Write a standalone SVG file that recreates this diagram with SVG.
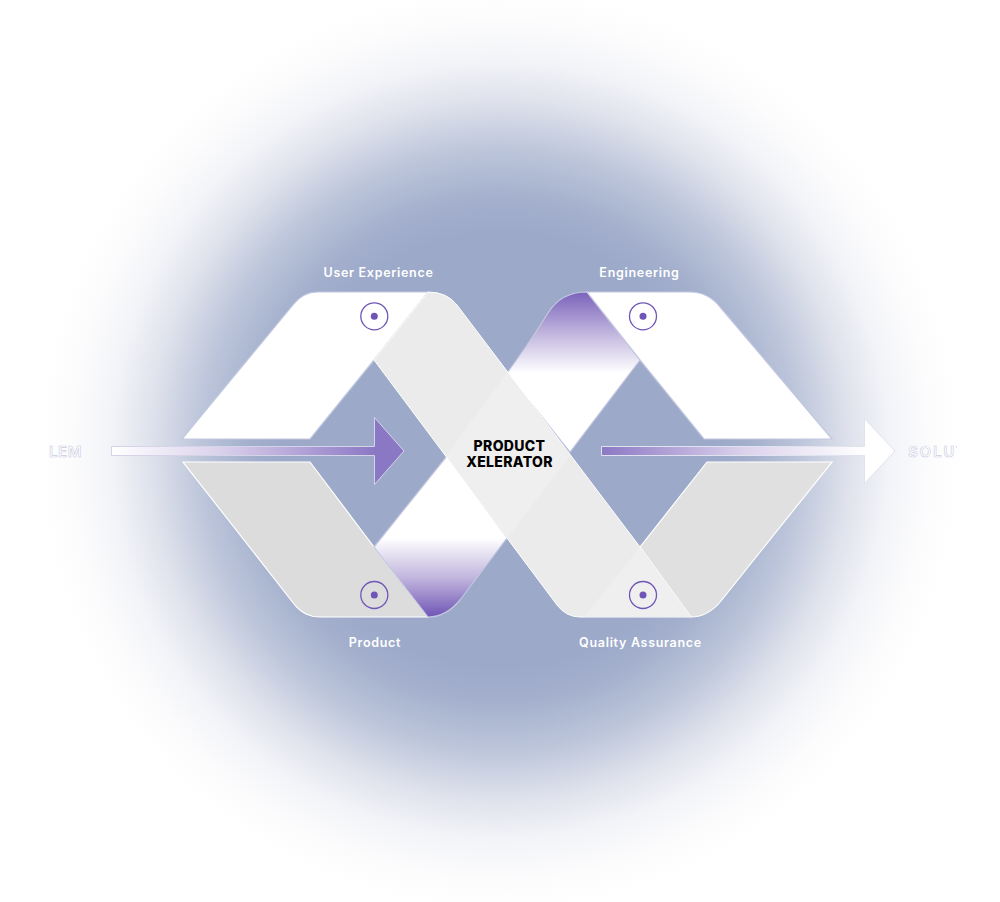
<svg xmlns="http://www.w3.org/2000/svg" width="1000" height="902" viewBox="0 0 1000 902">
<style>
.lbl{font-family:Inter,"Liberation Sans",sans-serif;font-size:12.5px;font-weight:600;fill:#fff;text-anchor:middle;letter-spacing:.7px}
.out{font-family:Inter,"Liberation Sans",sans-serif;font-size:15px;font-weight:600;fill:#fff;stroke:#c9cde3;stroke-width:.6;letter-spacing:.6px}
.core{font-family:Inter,"Liberation Sans",sans-serif;font-size:14px;font-weight:800;fill:#000;text-anchor:middle;letter-spacing:.35px}
.edgeT{stroke:#c3c8e0;stroke-width:1.2}
.edgeB{stroke:#fff;stroke-width:1.2}
.ring{fill:none;stroke:#6f55b5;stroke-width:1.3}
.dot{fill:#6f55b5}
</style>
<defs>
<radialGradient id="bg" gradientUnits="userSpaceOnUse" cx="500" cy="450" r="460">
<stop offset="0" stop-color="#9ca9c9"/><stop offset=".47" stop-color="#9ca9c9"/><stop offset=".543" stop-color="#a3afcc"/><stop offset=".652" stop-color="#bcc5da"/><stop offset=".76" stop-color="#dfe2ec"/><stop offset=".848" stop-color="#f3f4f8"/><stop offset=".935" stop-color="#fcfcfd"/><stop offset="1" stop-color="#fff"/>
</radialGradient>
<linearGradient id="topG" gradientUnits="userSpaceOnUse" x1="0" y1="292" x2="0" y2="373"><stop offset="0" stop-color="#7a62bb"/><stop offset=".55" stop-color="#c6bbe0"/><stop offset="1" stop-color="#fff"/></linearGradient>
<linearGradient id="botG" gradientUnits="userSpaceOnUse" x1="0" y1="538" x2="0" y2="617"><stop offset="0" stop-color="#fff"/><stop offset=".5" stop-color="#c2b6de"/><stop offset="1" stop-color="#6f55b5"/></linearGradient>
<linearGradient id="arrL" gradientUnits="userSpaceOnUse" x1="111" y1="0" x2="375" y2="0"><stop offset="0" stop-color="#fff"/><stop offset=".4" stop-color="#dcd3ec"/><stop offset="1" stop-color="#8b78c4"/></linearGradient>
<linearGradient id="arrR" gradientUnits="userSpaceOnUse" x1="601" y1="0" x2="865" y2="0"><stop offset="0" stop-color="#8b78c4"/><stop offset=".55" stop-color="#dcd3ec"/><stop offset="1" stop-color="#fff"/></linearGradient>
<clipPath id="cutR"><rect x="900" y="430" width="57" height="40"/></clipPath>
</defs>
<rect width="1000" height="902" fill="url(#bg)"/>
<g id="connectors">
<path d="M111.500 446.500H374.500V417.500L404 451L374.500 484.500V455.500H111.500Z" fill="url(#arrL)" stroke="#d5d3e8" stroke-width="1"/>
<path d="M601.500 446.500H864.500V418.500L895 451L864.500 483.500V455.500H601.500Z" fill="url(#arrR)" stroke="#dfe2ef" stroke-width="1"/>
</g>
<g id="node-user-experience">
<path class="edgeT" d="M182 439H310L374 360L428 292H318Q303 292 293 305Z" fill="#fff"/>
<text class="lbl" x="378.500" y="277">User Experience</text>
<circle class="ring" cx="374.300" cy="316.300" r="13.500"/><circle class="dot" cx="374.300" cy="316.300" r="3.500"/>
</g>
<g id="node-engineering">
<path class="edgeT" d="M507 373Q530 342 548 313Q561 292 587 292L640 360L570 452Z" fill="url(#topG)"/>
<path class="edgeT" d="M587 292H690Q708 292 720 307L832 439H704L640 360Z" fill="#fff"/>
<text class="lbl" x="639.500" y="277">Engineering</text>
<circle class="ring" cx="643" cy="316.300" r="13.500"/><circle class="dot" cx="643" cy="316.300" r="3.500"/>
</g>
<g id="node-product">
<path class="edgeB" d="M183 462H310L374 547L428 617H320Q304 617 294 604Z" fill="#dcdcdc"/>
<path class="edgeT" d="M447 456L507 538L460 600Q446 617 428 617L374 547Z" fill="url(#botG)"/>
<text class="lbl" x="375" y="647">Product</text>
<circle class="ring" cx="374.300" cy="595" r="13.500"/><circle class="dot" cx="374.300" cy="595" r="3.500"/>
</g>
<g id="node-quality-assurance">
<path class="edgeB" d="M707 462H832L721 601Q708 617 691 617L640 547Z" fill="#e0e0e0"/>
<path d="M374 360L428 292Q447 292 457 305L640 547L691 617H580Q566 617 557 605Z" fill="#ebebeb" stroke="#fff" stroke-width="1"/>
<path d="M584 617L640 547L691 617Z" fill="#efefef"/>
<text class="lbl" x="640.500" y="647">Quality Assurance</text>
<circle class="ring" cx="643" cy="595" r="13.500"/><circle class="dot" cx="643" cy="595" r="3.500"/>
</g>
<g id="node-core">
<path d="M507 373L570 456L507 538L446 456Z" fill="#efefef"/>
<text class="core" x="509.500" y="451">PRODUCT</text>
<text class="core" x="509.500" y="467">XELERATOR</text>
</g>
<g id="node-problem"><text class="out" x="49" y="456.500">LEM</text></g>
<g id="node-solution"><text class="out" x="908" y="456.500" clip-path="url(#cutR)" style="letter-spacing:1.8px">SOLUT</text></g>
</svg>
